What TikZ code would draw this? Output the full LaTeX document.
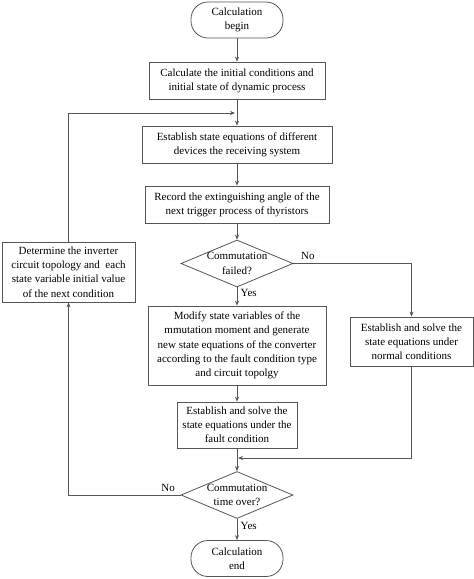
\documentclass[tikz,border=0pt]{standalone}
\usepackage{fontspec}
\setmainfont{Liberation Serif}
\usetikzlibrary{positioning, arrows.meta, shapes.geometric}
\definecolor{linegray}{RGB}{85,85,85}

\begin{document}
\begin{tikzpicture}[
                x=1pt, y=-1pt,
                >={Stealth[length=5pt,width=4pt]},
                font=\fontsize{11}{14.2}\selectfont,
                terminal/.style={rectangle, rounded corners=17pt, draw=linegray, line width=0.8pt, align=center, minimum width=92pt, minimum height=36pt, inner sep=1pt},
                process/.style={rectangle, draw=linegray, line width=0.8pt, align=center, inner sep=1pt},
                decision/.style={diamond, draw=linegray, line width=0.8pt, minimum width=112pt, minimum height=47pt, inner sep=0pt},
                flow/.style={->, draw=linegray, line width=0.8pt},
            ]
                \useasboundingbox (0,0) rectangle (474,579);

                % Draw the start and end nodes
                \node[terminal] (begin) at (237,20) {Calculation\\begin};
                \node[terminal] (end) at (237,558.5) {Calculation\\end};

                % Draw the main column of steps
                \node[process, minimum width=176pt, minimum height=37pt] (init) at (237,80.5) {Calculate the initial conditions and\\initial state of dynamic process};
                \node[process, minimum width=190pt, minimum height=37pt] (states) at (237,144.5) {Establish state equations of different\\devices the receiving system};
                \node[process, minimum width=184pt, minimum height=37pt] (angle) at (237,204.5) {Record the extinguishing angle of the\\next trigger process of thyristors};
                \node[decision, label={[align=center]center:Commutation\\failed?}] (failed) at (237,263.5) {};
                \node[process, minimum width=178pt, minimum height=79pt] (modify) at (237,345.5) {Modify state variables of the\\mmutation moment and generate\\new state equations of the converter\\according to the fault condition type\\and circuit topolgy};
                \node[process, minimum width=120pt, minimum height=46pt] (fault) at (237,425) {Establish and solve the\\state equations under the\\fault condition};
                \node[decision, label={[align=center]center:Commutation\\time over?}] (over) at (237,495) {};

                % Draw the side nodes
                \node[process, minimum width=123pt, minimum height=49pt] (normal) at (411.5,341.5) {Establish and solve the\\state equations under\\normal conditions};
                \node[process, minimum width=133pt, minimum height=60pt] (next) at (68.5,272) {Determine the inverter\\circuit topology and~ each\\state variable initial value\\of the next condition};

                % Junction points on the main column
                \coordinate (top-join) at (237,113);
                \coordinate (low-join) at (237,458);

                % Connect the steps
                \draw[flow] (begin) -- (init);
                \draw[flow] (init) -- (states);
                \draw[flow] (states) -- (angle);
                \draw[flow] (angle) -- (failed);
                \draw[flow] (failed.south) -- node[pos=0.3, right] {Yes} (modify);
                \draw[flow] (failed.east) node[above right, xshift=4pt] {No} -| (normal.north);
                \draw[flow] (modify) -- (fault);
                \draw[flow] (fault) -- (over);
                \draw[flow] (normal.south) |- ([xshift=1pt]low-join);
                \draw[flow] (over.south) -- node[pos=0.35, right] {Yes} (end);
                \draw[flow] (over.west) node[above left, xshift=-2pt] {No} -| (next.south);
                \draw[flow] (next.north) |- ([xshift=-2pt]top-join);
            \end{tikzpicture}
\end{document}
